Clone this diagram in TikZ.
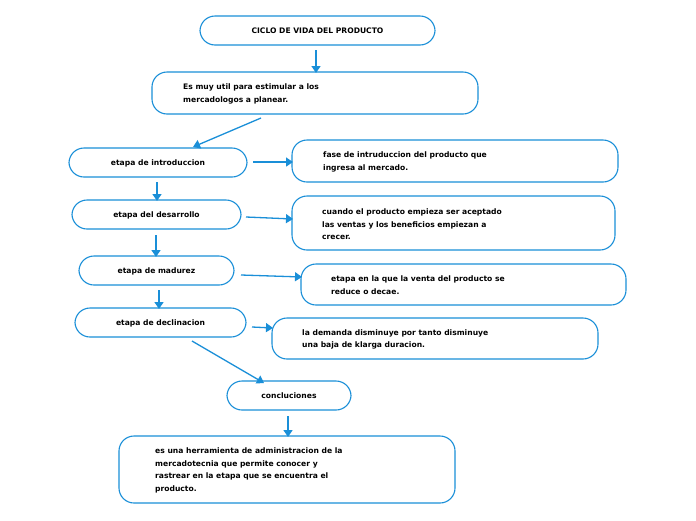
\documentclass[tikz,border=0pt]{standalone}
\usepackage{fontspec}
\setmainfont{DejaVu Sans}
\usetikzlibrary{arrows.meta}
\definecolor{bl}{HTML}{1A8FD8}
\begin{document}
\begin{tikzpicture}[x=1pt,y=-1pt,
  box/.style={draw=bl,line width=1.1pt,rounded corners=15pt,inner sep=0pt},
  lab/.style={font=\bfseries\fontsize{7.6}{12.5}\selectfont,text=black,inner sep=0pt},
  arr/.style={draw=bl,line width=1.3pt,-{Triangle[length=7pt,width=9pt]}}]
\fill[white] (0,0) rectangle (696,520);
\draw[box] (200,16) rectangle (435,45); \node[lab] (t) at (317.5,31) {CICLO DE VIDA DEL PRODUCTO};
\draw[box] (152,72) rectangle (478,114); \node[lab,align=left,anchor=west] (a) at (183,94) {Es muy util para estimular a los\\mercadologos a planear.};
\draw[box] (69,148) rectangle (247,177); \node[lab] (i) at (158,163) {etapa de introduccion};
\draw[box] (292,140) rectangle (618,182); \node[lab,align=left,anchor=west] (ib) at (323,162) {fase de intruduccion del producto que\\ingresa al mercado.};
\draw[box] (72,200) rectangle (241,229); \node[lab] (d) at (156.5,215) {etapa del desarrollo};
\draw[box] (292,196) rectangle (615,250); \node[lab,align=left,anchor=west] (db) at (322,224.5) {cuando el producto empieza ser aceptado\\las ventas y los beneficios empiezan a\\crecer.};
\draw[box] (79,256) rectangle (234,285); \node[lab] (m) at (156.5,271) {etapa de madurez};
\draw[box] (301,264) rectangle (626,305); \node[lab,align=left,anchor=west] (mb) at (331,285) {etapa en la que la venta del producto se\\reduce o decae.};
\draw[box] (75,308) rectangle (246,337); \node[lab] (c) at (160.5,323) {etapa de declinacion};
\draw[box] (272,318) rectangle (598,359); \node[lab,align=left,anchor=west] (cb) at (302,339.5) {la demanda disminuye por tanto disminuye\\una baja de klarga duracion.};
\draw[box] (227,381) rectangle (351,410); \node[lab] (k) at (289,396) {concluciones};
\draw[box] (119,436) rectangle (455,503); \node[lab,align=left,anchor=west] (e) at (155,470.5) {es una herramienta de administracion de la\\mercadotecnia que permite conocer y\\rastrear en la etapa que se encuentra el\\producto.};
\draw[arr] (316,50) -- (316,73);
\draw[arr] (261,118) -- (193,147);
\draw[arr] (253,162) -- (293,162);
\draw[arr] (157,182) -- (157,201);
\draw[arr] (246,217) -- (293,219);
\draw[arr] (156,235) -- (156,257);
\draw[arr] (241,275) -- (302,277);
\draw[arr] (159,290) -- (159,309);
\draw[arr] (252,327) -- (273,328);
\draw[arr] (192,341) -- (264,383);
\draw[arr] (288,416) -- (288,437);
\end{tikzpicture}
\end{document}
